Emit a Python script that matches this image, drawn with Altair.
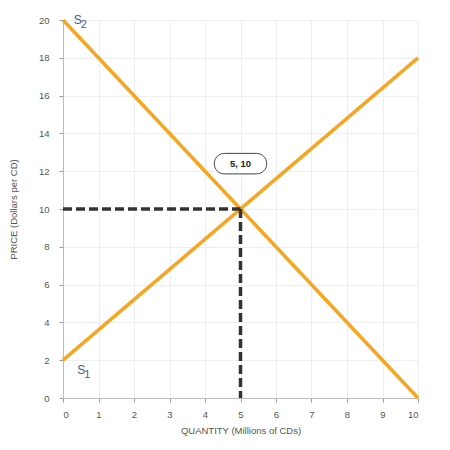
import altair as alt
import pandas as pd

# Lines
s1_q = [0, 10]
s1_p = [2, 18]
s2_q = [0, 10]
s2_p = [20, 0]
eq_q = 5
eq_p = 10

x_ticks = list(range(0, 11))
y_ticks = list(range(0, 21, 2))

lines = pd.DataFrame({
    "q": s1_q + s2_q,
    "p": s1_p + s2_p,
    "curve": ["S1", "S1", "S2", "S2"],
})
dash = pd.DataFrame({
    "q": [0, eq_q, eq_q, eq_q],
    "p": [eq_p, eq_p, eq_p, 0],
    "seg": ["h", "h", "v", "v"],
})
labels = pd.DataFrame({
    "q": [0.3, 0.4],
    "p": [20.0, 1.5],
    "t": ["S", "S"],
    "sub": ["2", "1"],
})
eq_label = pd.DataFrame({"q": [5.0], "p": [12.4], "t": ["5, 10"]})

xs = alt.Scale(domain=[0, 10], nice=False)
ys = alt.Scale(domain=[0, 20], nice=False)

x_axis = alt.Axis(values=x_ticks, title="QUANTITY (Millions of CDs)", labelColor="#555",
                  titleColor="#555", labelFontSize=9.5, titleFontSize=9.5, titleFontWeight="normal",
                  domainColor="#bbb", tickColor="#999", tickSize=4, gridColor="#eee",
                  labelPadding=7, titlePadding=7, labelFont="Liberation Sans", titleFont="Liberation Sans",
                  labelOverlap=False)
y_axis = alt.Axis(values=y_ticks, title="PRICE (Dollars per CD)", labelColor="#555",
                  titleColor="#555", labelFontSize=9.5, titleFontSize=9.5, titleFontWeight="normal",
                  domainColor="#bbb", tickColor="#999", tickSize=4, gridColor="#eee",
                  labelPadding=10, titlePadding=20, labelFont="Liberation Sans", titleFont="Liberation Sans",
                  labelOverlap=False)

X = alt.X("q:Q", scale=xs, axis=x_axis)
Y = alt.Y("p:Q", scale=ys, axis=y_axis)

curves = alt.Chart(lines).mark_line(color="#F5A623", strokeWidth=3.5).encode(
    x=X, y=Y, detail="curve:N",
)

dashes = alt.Chart(dash).mark_line(color="#333", strokeWidth=3.5, strokeDash=[9, 4]).encode(
    x=X, y=Y, detail="seg:N",
)

s_text = alt.Chart(labels).mark_text(color="#4a5a8a", fontSize=12, align="left", baseline="middle",
                                     font="Liberation Sans").encode(x=X, y=Y, text="t:N")
sub_text = alt.Chart(labels).mark_text(color="#4a5a8a", fontSize=11, align="left", baseline="middle",
                                       dx=7, dy=5, font="Liberation Sans").encode(x=X, y=Y, text="sub:N")

box = alt.Chart(eq_label).mark_point(shape="M-1.4,-0.9 L1.4,-0.9 A0.9,0.9 0 0 1 1.4,0.9 L-1.4,0.9 A0.9,0.9 0 0 1 -1.4,-0.9 Z",
                                     size=520, filled=True, fill="white", stroke="#444",
                                     strokeWidth=1, opacity=1).encode(x=X, y=Y)
eq_text = alt.Chart(eq_label).mark_text(color="#222", fontSize=9.5, fontWeight="bold",
                                        font="Liberation Sans").encode(x=X, y=Y, text="t:N")

chart = alt.layer(curves, dashes, s_text, sub_text, box, eq_text).properties(
    width=355, height=378,
    padding={"left": 55, "top": 12, "right": 20, "bottom": 40},
    autosize=alt.AutoSizeParams(type="none"),
).configure_view(stroke=None).configure_axis(grid=True)

chart.save("out.html", embed_options={"renderer": "svg", "actions": False})
